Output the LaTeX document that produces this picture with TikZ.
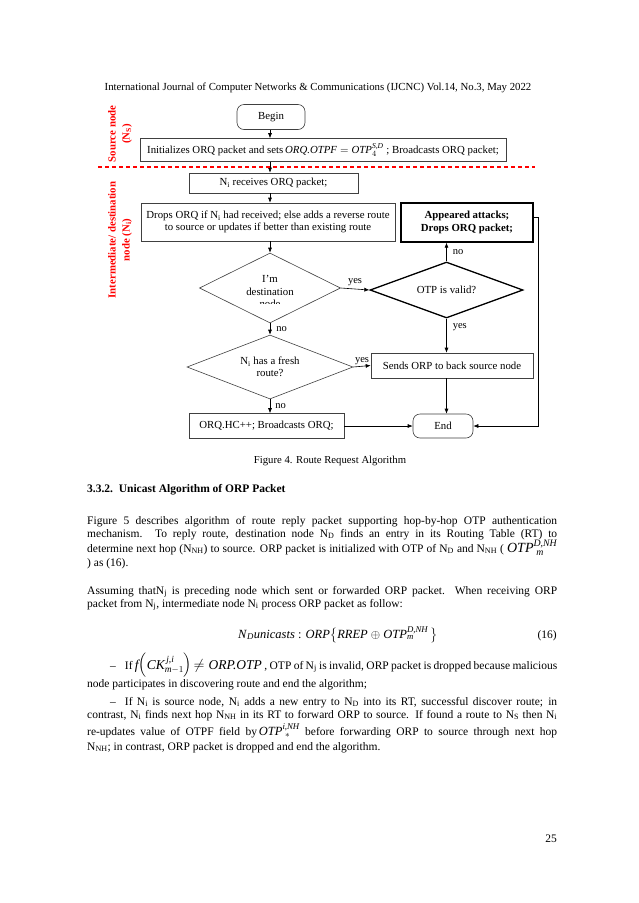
\documentclass[tikz,border=0pt]{standalone}
\usepackage{amsmath,amssymb}
\usepackage{fontspec}
\setmainfont{Liberation Serif}
\usetikzlibrary{shapes.geometric,arrows.meta,positioning}
\newcommand{\mi}[1]{\textit{#1}}
\newcommand{\jl}[1]{\hbox to 470pt{#1}}
\newcommand{\jb}[1]{\hbox to 447pt{#1}}

\begin{document}
\begin{tikzpicture}[x=1pt,y=-1pt,lbl/.style={inner sep=3pt, font=\fontsize{10.5}{12}\selectfont}]
\tikzstyle{blk}=[draw=black!75, line width=0.6pt, inner sep=0pt, align=center, font=\fontsize{10.8}{12.5}\selectfont]
\tikzstyle{trm}=[blk, rounded corners=7pt]
\tikzstyle{dec}=[blk, diamond, shape aspect=2.3]
\tikzstyle{arr}=[-{Latex[length=5pt,width=4pt]}, line width=0.6pt]
\tikzstyle{txt}=[inner sep=0pt, anchor=base west, font=\fontsize{11.5}{13}\selectfont]
\tikzstyle{side}=[red, rotate=90, align=center, inner sep=0pt, font=\bfseries\fontsize{10.8}{14}\selectfont]
\useasboundingbox[fill=white] (0,0) rectangle (638,903);

\node[font=\fontsize{10.8}{12}\selectfont] (hdr) at (318,88) {International Journal of Computer Networks \& Communications (IJCNC) Vol.14, No.3, May 2022};

% flowchart
\coordinate (col) at (270,0);
\node[trm, minimum width=68, minimum height=25] (begin) at (271,117) {Begin};
\node[blk, minimum width=366, minimum height=23] (init) at (323,150) {Initializes ORQ packet and sets\,$\mi{ORQ.OTPF} = \mi{OTP}^{\mi{S,D}}_{4}$ ; Broadcasts ORQ packet;};
\node[blk, minimum width=169, minimum height=20] (recv) at (273.5,183) {N\textsubscript{i} receives ORQ packet;};
\node[blk, minimum width=254, minimum height=38] (drop) at (268,222) {Drops ORQ if N\textsubscript{i} had received; else adds a reverse route\\to source or updates if better than existing route};
\node[blk, line width=1.3pt, draw=black, minimum width=132, minimum height=39, font=\bfseries\fontsize{10.8}{12.5}\selectfont] (att) at (467,222.5) {Appeared attacks;\\Drops ORQ packet;};
\node[dec, minimum width=141, minimum height=70] (dest) at (270,288) {};
\begin{scope}
\clip (200,253) rectangle (341,303.5);
\node[blk, draw=none] (dtxt) at (270,291.5) {I’m\\destination\\node};
\end{scope}
\node[dec, line width=1.3pt, draw=black, minimum width=153, minimum height=56] (otp) at (446.5,290) {OTP is valid?};
\node[dec, minimum width=166, minimum height=64] (fresh) at (270,367) {N\textsubscript{i} has a fresh\\route?};
\node[blk, minimum width=162, minimum height=25] (send) at (452,365.5) {Sends ORP to back source node};
\node[blk, minimum width=155, minimum height=25] (orq) at (266.5,426) {ORQ.HC++; Broadcasts ORQ;};
\node[trm, minimum width=60, minimum height=24] (end) at (443,426) {End};

\draw[arr] (begin.south -| col) -- (init.north -| col);
\draw[arr] (init.south -| col) -- (recv.north -| col);
\draw[arr] (recv.south -| col) -- (drop.north -| col);
\draw[arr] (drop.south -| col) -- (dest.north);
\draw[arr] (dest.east) -- node[lbl,above]{yes} (otp.west);
\draw[arr] (otp.north) -- node[lbl,right,xshift=3pt]{no} (otp.north |- att.south);
\draw[arr] (otp.south) -- node[lbl,right,xshift=3pt,pos=0.25]{yes} (otp.south |- send.north);
\draw[arr] (dest.south) -- node[lbl,right,xshift=3pt]{no} (fresh.north);
\draw[arr] (fresh.east) -- node[lbl,above,inner sep=1pt]{yes} (send.west);
\draw[arr] (fresh.south) -- node[lbl,right,xshift=2pt]{no} (fresh.south |- orq.north);
\draw[arr] (send.south -| otp) -- (end.north -| otp);
\draw[arr] (orq.east) -- (end.west);
\draw[arr] ([yshift=5pt]att.east) -- ++(4.5,0) |- (end.east);

\draw[red, line width=1.1pt, dash pattern=on 4pt off 3pt] (98,167) -- (535,167);
\node[side] (srclbl) at (120,134) {Source node\\(N\textsubscript{S})};
\node[side] (midlbl) at (120,240) {Intermediate/ destination\\node (N\textsubscript{i})};

\node[font=\fontsize{10.7}{12}\selectfont] (cap) at (330,461) {Figure 4. Route Request Algorithm};

% text below the figure
\node[txt, font=\bfseries\fontsize{11.5}{13}\selectfont] (hd) at (87,492) {3.3.2.\ \ Unicast Algorithm of ORP Packet};
\node[txt] (l1) at (87,524) {\jl{Figure 5 describes algorithm of route reply packet supporting hop-by-hop OTP authentication}};
\node[txt] (l2) at (87,537) {\jl{mechanism. To reply route, destination node N\textsubscript{D} finds an entry in its Routing Table (RT) to}};
\node[txt] (l3) at (87,552) {\jl{determine next hop (N\textsubscript{NH}) to source. ORP packet is initialized with OTP of N\textsubscript{D} and N\textsubscript{NH} ( {\fontsize{14}{14}\selectfont$\mi{OTP}^{\mi{D,NH}}_{\;\mi{m}}$}}};
\node[txt] (l4) at (87,566) {) as (16).};
\node[txt] (l5) at (87,594) {\jl{Assuming thatN\textsubscript{j} is preceding node which sent or forwarded ORP packet. When receiving ORP}};
\node[txt] (l6) at (87,607) {packet from N\textsubscript{j}, intermediate node N\textsubscript{i} process ORP packet as follow:};
\node[txt, font=\fontsize{12.5}{14}\selectfont] (eq) at (238,638) {\mi{N}$_{\mi{D}}$\mi{unicasts} : \mi{ORP}$\bigl\{$\mi{RREP} $\oplus$ \mi{OTP}$^{\mi{D,NH}}_{\mi{m}}$\,$\bigr\}$};
\node[txt, anchor=base east] (eqno) at (557,638) {(16)};
\node[txt] (b1) at (110,669) {\jb{–\hspace{9pt}If {\fontsize{13.5}{14}\selectfont$\mi{f}\Bigl(\mi{CK}^{\,\mi{j,i}}_{\mi{m}-1}\Bigr)\!\neq\mi{ORP.OTP}$} , OTP of N\textsubscript{j} is invalid, ORP packet is dropped because malicious}};
\node[txt] (l8) at (87,687) {node participates in discovering route and end the algorithm;};
\node[txt] (b2) at (110,705) {\jb{–\hspace{9pt}If N\textsubscript{i} is source node, N\textsubscript{i} adds a new entry to N\textsubscript{D} into its RT, successful discover route; in}};
\node[txt] (l10) at (87,718) {\jl{contrast, N\textsubscript{i} finds next hop N\textsubscript{NH} in its RT to forward ORP to source. If found a route to N\textsubscript{S} then N\textsubscript{i}}};
\node[txt] (l11) at (87,735) {\jl{re-updates value of OTPF field by\,{\fontsize{12.5}{13}\selectfont$\mi{OTP}^{\smash{\mi{i,NH}}}_{\;*}$} before forwarding ORP to source through next hop}};
\node[txt] (l12) at (87,750) {N\textsubscript{NH}; in contrast, ORP packet is dropped and end the algorithm.};
\node[txt, anchor=base east] (pg) at (557,842) {25};
\end{tikzpicture}
\end{document}
